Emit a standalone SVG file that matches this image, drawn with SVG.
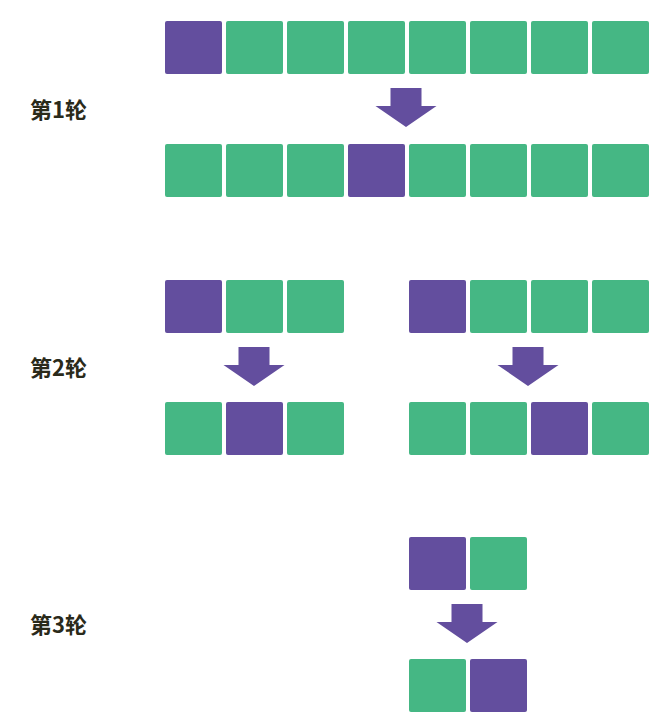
<svg xmlns="http://www.w3.org/2000/svg" width="664" height="724" viewBox="0 0 664 724">
<defs>
<style>
.p{fill:#634E9E}.g{fill:#45B784}
.a{fill:#634E9E}
.t{font-family:"Noto Sans CJK SC",sans-serif;font-size:22px;font-weight:bold;fill:#2a2a1a}
</style>
<rect id="sq" width="57" height="53" rx="2"/>
<path id="arr" d="M-15.5,0 H15.5 V18 H30.5 L0,39 L-30.5,18 H-15.5 Z"/>
</defs>
<rect width="664" height="724" fill="#fff"/>
<g id="labels">
<text class="t" x="30" y="118">第1轮</text>
<text class="t" x="30" y="376">第2轮</text>
<text class="t" x="30" y="633">第3轮</text>
</g>
<g id="round1">
<use href="#sq" class="p" x="165" y="21"/><use href="#sq" class="g" x="226" y="21"/><use href="#sq" class="g" x="287" y="21"/><use href="#sq" class="g" x="348" y="21"/><use href="#sq" class="g" x="409" y="21"/><use href="#sq" class="g" x="470" y="21"/><use href="#sq" class="g" x="531" y="21"/><use href="#sq" class="g" x="592" y="21"/>
<use href="#sq" class="g" x="165" y="144"/><use href="#sq" class="g" x="226" y="144"/><use href="#sq" class="g" x="287" y="144"/><use href="#sq" class="p" x="348" y="144"/><use href="#sq" class="g" x="409" y="144"/><use href="#sq" class="g" x="470" y="144"/><use href="#sq" class="g" x="531" y="144"/><use href="#sq" class="g" x="592" y="144"/>
</g>
<g id="round2">
<use href="#sq" class="p" x="165" y="280"/><use href="#sq" class="g" x="226" y="280"/><use href="#sq" class="g" x="287" y="280"/>
<use href="#sq" class="p" x="409" y="280"/><use href="#sq" class="g" x="470" y="280"/><use href="#sq" class="g" x="531" y="280"/><use href="#sq" class="g" x="592" y="280"/>
<use href="#sq" class="g" x="165" y="402"/><use href="#sq" class="p" x="226" y="402"/><use href="#sq" class="g" x="287" y="402"/>
<use href="#sq" class="g" x="409" y="402"/><use href="#sq" class="g" x="470" y="402"/><use href="#sq" class="p" x="531" y="402"/><use href="#sq" class="g" x="592" y="402"/>
</g>
<g id="round3">
<use href="#sq" class="p" x="409" y="537"/><use href="#sq" class="g" x="470" y="537"/>
<use href="#sq" class="g" x="409" y="659"/><use href="#sq" class="p" x="470" y="659"/>
</g>
<g id="connectors">
<use href="#arr" class="a" x="406" y="88"/>
<use href="#arr" class="a" x="254" y="347"/>
<use href="#arr" class="a" x="528" y="347"/>
<use href="#arr" class="a" x="467" y="604"/>
</g>
</svg>
